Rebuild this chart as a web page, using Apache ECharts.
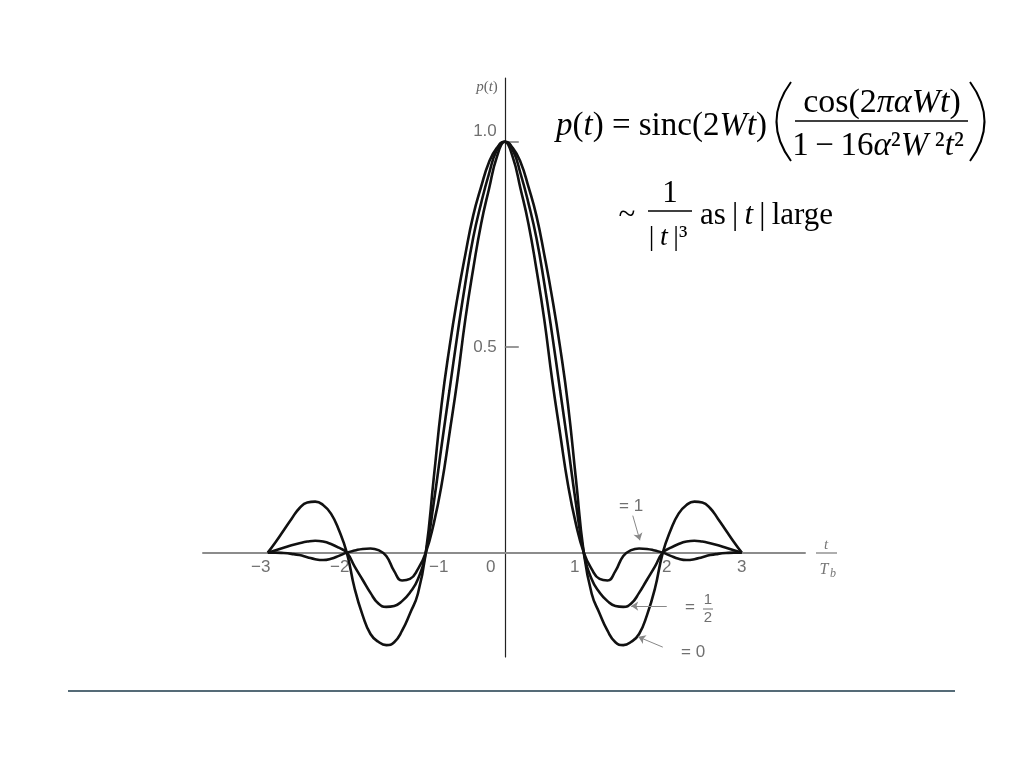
<!DOCTYPE html>
<html>
<head>
<meta charset="utf-8">
<title>Raised cosine pulse p(t)</title>
<script src="https://cdn.jsdelivr.net/npm/echarts@6/dist/echarts.min.js"></script>
<style>html,body{margin:0;padding:0;background:#fff;}</style>
</head>
<body>
<div id="main" style="width:1024px;height:768px;"></div>
<script>
// t / Tb sample points
var tVals = [-3.0, -2.9, -2.8, -2.7, -2.6, -2.5, -2.4, -2.3, -2.2, -2.1,
             -2.0, -1.9, -1.8, -1.7, -1.6, -1.5, -1.4, -1.3, -1.2, -1.1,
             -1.0, -0.9, -0.8, -0.7, -0.6, -0.5, -0.4, -0.3, -0.2, -0.1,
             0.0, 0.1, 0.2, 0.3, 0.4, 0.5, 0.6, 0.7, 0.8, 0.9,
             1.0, 1.1, 1.2, 1.3, 1.4, 1.5, 1.6, 1.7, 1.8, 1.9,
             2.0, 2.1, 2.2, 2.3, 2.4, 2.5, 2.6, 2.7, 2.8, 2.9, 3.0];

// p(t) for alpha = 0
var alpha0 = [0, 0.026, 0.054, 0.082, 0.108, 0.122, 0.124, 0.116, 0.095, 0.055,
              0, -0.088, -0.152, -0.198, -0.217, -0.225, -0.218, -0.19, -0.148, -0.1,
              0, 0.18, 0.36, 0.50, 0.62, 0.725, 0.82, 0.89, 0.95, 0.985,
              1.0, 0.985, 0.95, 0.89, 0.82, 0.725, 0.62, 0.50, 0.36, 0.18,
              0, -0.1, -0.148, -0.19, -0.218, -0.225, -0.217, -0.198, -0.152, -0.088,
              0, 0.055, 0.095, 0.116, 0.124, 0.122, 0.108, 0.082, 0.054, 0.026, 0];

// alpha = 1/2
var alphaHalf = [0, 0.006, 0.012, 0.018, 0.023, 0.027, 0.029, 0.027, 0.021, 0.012,
                 0, -0.034, -0.066, -0.098, -0.124, -0.132, -0.13, -0.118, -0.097, -0.065,
                 0, 0.12, 0.26, 0.395, 0.53, 0.655, 0.766, 0.85, 0.922, 0.98,
                 1.0, 0.98, 0.922, 0.85, 0.766, 0.655, 0.53, 0.395, 0.26, 0.12,
                 0, -0.065, -0.097, -0.118, -0.13, -0.132, -0.124, -0.098, -0.066, -0.034,
                 0, 0.012, 0.021, 0.027, 0.029, 0.027, 0.023, 0.018, 0.012, 0.006, 0];

// alpha = 1
var alpha1 = [0, 0, -0.001, -0.003, -0.006, -0.011, -0.016, -0.018, -0.015, -0.008,
              0, 0.005, 0.009, 0.01, 0.006, -0.008, -0.045, -0.068, -0.064, -0.04,
              0, 0.07, 0.165, 0.29, 0.42, 0.567, 0.69, 0.80, 0.885, 0.963,
              1.0, 0.963, 0.885, 0.80, 0.69, 0.567, 0.42, 0.29, 0.165, 0.07,
              0, -0.04, -0.064, -0.068, -0.045, -0.008, 0.006, 0.01, 0.009, 0.005,
              0, -0.008, -0.015, -0.018, -0.016, -0.011, -0.006, -0.003, -0.001, 0, 0];

var xTicks = [-3, -2, -1, 0, 1, 2, 3];
var yTicks = [0.5, 1.0];

// annotation arrows (tail -> head, in data units)
var arrowTail = [[1.62, 0.09], [2.05, -0.13], [2.0, -0.23]];
var arrowHead = [[1.71, 0.03], [1.60, -0.13], [1.69, -0.205]];

var X_MIN = -3.82, X_MAX = 3.8, Y_MIN = -0.254, Y_MAX = 1.155;
var GRID = { left: 203, right: 219, top: 78, bottom: 111 };
var W = 1024, H = 768;

var serif = 'Liberation Serif';
var sans = 'Liberation Sans';
var grey = '#707070';

// label nudges so the tick numbers sit where the original drawing put them
var xLabelShift = [-7, -7, 13, -14, -9, 4, 0];

var myChart = echarts.init(document.getElementById('main'));

// axes cross at the origin: shift them from the grid edges onto zero
var gw = W - GRID.left - GRID.right, gh = H - GRID.top - GRID.bottom;
var xZeroPx = gw * (0 - X_MIN) / (X_MAX - X_MIN);     // from grid left
var yZeroPx = gh * (0 - Y_MIN) / (Y_MAX - Y_MIN);     // from grid bottom

function serifRich(size, color) {
    return {
        i: { fontStyle: 'italic', fontSize: size, fontFamily: serif, fill: color, color: color },
        r: { fontSize: size, fontFamily: serif, fill: color, color: color }
    };
}

function txt(x, y, text, size, align, color, family) {
    color = color || '#000';
    return {
        type: 'text', silent: true,
        style: {
            x: x, y: y, text: text,
            fontSize: size, fontFamily: family || serif,
            fill: color,
            align: align, textAlign: align,
            verticalAlign: 'middle', textVerticalAlign: 'middle',
            rich: serifRich(size, color)
        }
    };
}

function hline(x1, x2, y, color, w) {
    return { type: 'line', silent: true, shape: { x1: x1, y1: y, x2: x2, y2: y },
             style: { stroke: color, lineWidth: w } };
}

var xRich = {};
xTicks.forEach(function (v, i) {
    var s = xLabelShift[i];
    xRich['r' + i] = {
        fontSize: 17, fontFamily: sans, color: grey,
        padding: s < 0 ? [0, -2 * s, 0, 0] : [0, 0, 0, 2 * s]
    };
});

function makeSeries(name, ys) {
    return {
        name: name,
        type: 'line',
        data: tVals.map(function (t, i) { return [t, ys[i]]; }),
        showSymbol: false,
        smooth: 0.5,
        silent: true,
        lineStyle: { color: '#111', width: 2.6 }
    };
}

var series = [
    makeSeries('α = 0', alpha0),
    makeSeries('α = 1/2', alphaHalf),
    makeSeries('α = 1', alpha1)
];

series[0].markLine = {
    silent: true,
    animation: false,
    symbol: ['none', 'arrow'],
    symbolSize: 7,
    label: { show: false },
    lineStyle: { color: '#888', width: 1, type: 'solid' },
    data: arrowTail.map(function (p, i) {
        return [{ coord: p }, { coord: arrowHead[i] }];
    })
};

var option = {
    animation: false,
    backgroundColor: '#fff',
    grid: GRID,
    xAxis: {
        type: 'value',
        min: X_MIN,
        max: X_MAX,
        offset: -yZeroPx,
        axisLine: { onZero: false, lineStyle: { color: '#8c8c8c', width: 2 } },
        axisTick: { show: false },
        splitLine: { show: false },
        axisLabel: {
            customValues: xTicks,
            margin: 6,
            formatter: function (v) {
                var i = xTicks.indexOf(v);
                var s = v < 0 ? '\u2212' + Math.abs(v) : String(v);
                return '{r' + i + '|' + s + '}';
            },
            rich: xRich
        }
    },
    yAxis: {
        type: 'value',
        min: Y_MIN,
        max: Y_MAX,
        offset: -xZeroPx,
        name: '{i|p}({i|t})',
        nameLocation: 'end',
        nameGap: -9,
        nameTextStyle: {
            align: 'right', verticalAlign: 'middle', padding: [0, 7, 0, 0],
            rich: {
                i: { fontStyle: 'italic', fontSize: 15, fontFamily: serif, color: '#666' }
            },
            fontSize: 15, fontFamily: serif, color: '#666'
        },
        axisLine: { onZero: false, lineStyle: { color: '#222', width: 1.2 } },
        axisTick: {
            customValues: yTicks, inside: true, length: 14,
            lineStyle: { color: '#777', width: 1.5 }
        },
        splitLine: { show: false },
        axisLabel: {
            customValues: yTicks,
            margin: 8,
            formatter: function (v) {
                return v === 1 ? '{hi|1.0}' : '{n|' + v.toFixed(1) + '}';
            },
            rich: {
                hi: { fontSize: 17, fontFamily: sans, color: grey, padding: [0, 0, 20, 0] },
                n: { fontSize: 17, fontFamily: sans, color: grey }
            }
        }
    },
    graphic: [
        // formula, first line
        txt(556, 126, '{i|p}({i|t}) = sinc(2{i|W}{i|t})', 33, 'left'),
        { type: 'bezierCurve', silent: true,
          shape: { x1: 791, y1: 82, x2: 791, y2: 161, cpx1: 762, cpy1: 121.5 },
          style: { stroke: '#000', lineWidth: 2, fill: null } },
        { type: 'bezierCurve', silent: true,
          shape: { x1: 970, y1: 82, x2: 970, y2: 161, cpx1: 999, cpy1: 121.5 },
          style: { stroke: '#000', lineWidth: 2, fill: null } },
        txt(882, 103, 'cos(2{i|πα}{i|W}{i|t})', 34, 'center'),
        hline(795, 968, 121, '#000', 1.5),
        txt(878, 146, '1\u2009\u2212\u200916{i|α}²{i|W}\u2009²{i|t}²', 33, 'center'),
        // second line
        txt(627, 216, '~', 31, 'center'),
        txt(670, 194, '1', 31, 'center'),
        hline(648, 692, 211, '#000', 1.5),
        txt(668, 238, '|\u2009{i|t}\u2009|³', 28, 'center'),
        txt(700, 216, 'as\u2009|\u2009{i|t}\u2009|\u2009large', 31, 'left'),
        // x axis name t / Tb
        txt(826, 545, '{i|t}', 15, 'center', '#777'),
        hline(816, 837, 553, '#777', 1.2),
        txt(824, 570, '{i|T}', 16, 'center', '#777'),
        txt(833, 574, '{i|b}', 12, 'center', '#777'),
        // curve labels
        txt(619, 506, '= 1', 17, 'left', grey, sans),
        txt(685, 607, '=', 17, 'left', grey, sans),
        txt(708, 600, '1', 15, 'center', grey, sans),
        hline(703, 713, 609, grey, 1),
        txt(708, 618, '2', 15, 'center', grey, sans),
        txt(681, 652, '= 0', 17, 'left', grey, sans),
        // slide rule at the bottom
        hline(68, 955, 691, '#1d3a4a', 1.5)
    ],
    series: series
};

myChart.setOption(option);
</script>
</body>
</html>
